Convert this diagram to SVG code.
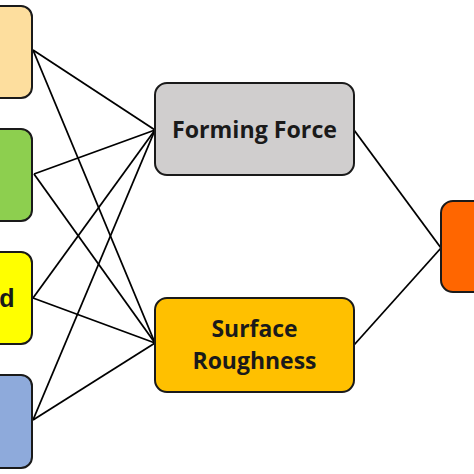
<svg xmlns="http://www.w3.org/2000/svg" width="474" height="474" viewBox="0 0 474 474">
<style>
.box{stroke:#1a1a1a;stroke-width:2}
.lbl{font-family:"Open Sans","Liberation Sans",sans-serif;font-weight:bold;font-size:23px;fill:#1a1a1a;text-anchor:middle}
.ln{stroke:#000;stroke-width:1.8;fill:none}
</style>
<rect width="474" height="474" fill="#fff"/>
<g id="connectors">
<line class="ln" x1="33" y1="50" x2="155" y2="130"/>
<line class="ln" x1="33" y1="50" x2="155" y2="343"/>
<line class="ln" x1="34" y1="174" x2="155" y2="130"/>
<line class="ln" x1="34" y1="174" x2="155" y2="343"/>
<line class="ln" x1="33" y1="298" x2="155" y2="130"/>
<line class="ln" x1="33" y1="298" x2="155" y2="343"/>
<line class="ln" x1="33" y1="420" x2="155" y2="130"/>
<line class="ln" x1="33" y1="420" x2="155" y2="343"/>
<line class="ln" x1="354" y1="130" x2="441" y2="248"/>
<line class="ln" x1="354" y1="345" x2="441" y2="248"/>
</g>
<g id="in1"><rect class="box" x="-80" y="6" width="112" height="92" rx="11" fill="#FDDE9E"/></g>
<g id="in2"><rect class="box" x="-80" y="129" width="112" height="92" rx="11" fill="#8DCF4F"/></g>
<g id="in3"><rect class="box" x="-80" y="252" width="112" height="92" rx="11" fill="#FFFF00"/>
<text x="7" y="307" class="lbl" style="font-family:'Liberation Sans',sans-serif;font-size:25px">d</text></g>
<g id="in4"><rect class="box" x="-80" y="375" width="112" height="93" rx="11" fill="#8EAADB"/></g>
<g id="forming"><rect class="box" x="155" y="83" width="199" height="92" rx="12" fill="#D0CECE"/>
<text x="254.5" y="138" class="lbl" textLength="165" lengthAdjust="spacingAndGlyphs">Forming Force</text></g>
<g id="surface"><rect class="box" x="155" y="298" width="199" height="94" rx="12" fill="#FFC000"/>
<text x="254.5" y="337" class="lbl" textLength="86" lengthAdjust="spacingAndGlyphs">Surface</text>
<text x="254.5" y="369" class="lbl" textLength="124" lengthAdjust="spacingAndGlyphs">Roughness</text></g>
<g id="out"><rect class="box" x="441" y="201" width="80" height="91" rx="12" fill="#FF6600"/></g>
</svg>
